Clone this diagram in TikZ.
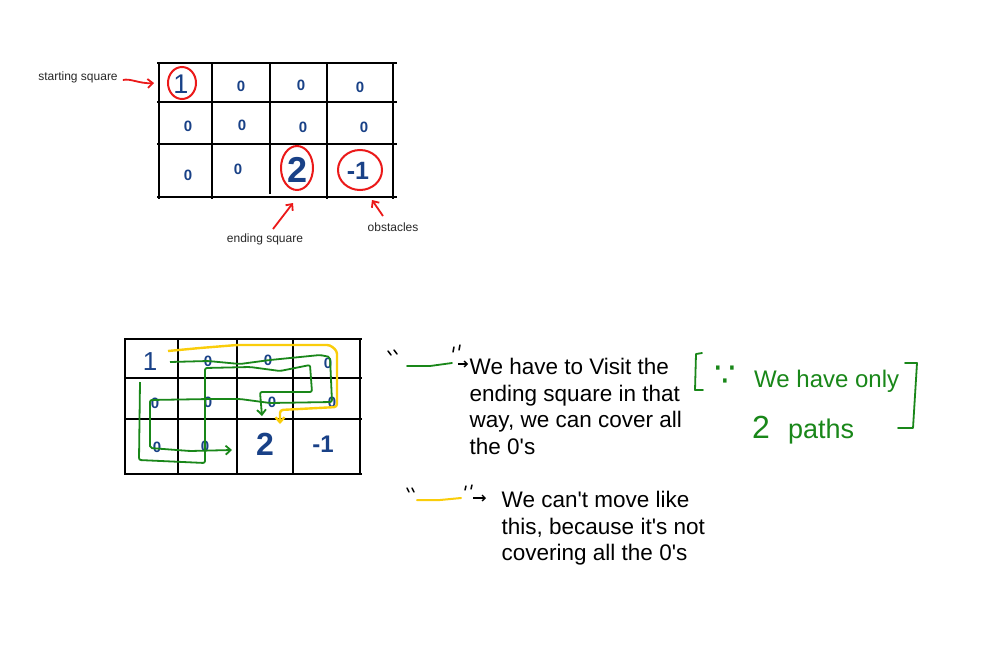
\documentclass[tikz,border=0pt]{standalone}
\usepackage{fontspec}
\setmainfont{Liberation Sans}
\newfontfamily\symfont{DejaVu Sans}
\usetikzlibrary{arrows.meta,shapes.geometric}
\definecolor{penblue}{RGB}{25,65,135}
\definecolor{penred}{RGB}{235,25,25}
\definecolor{pengreen}{RGB}{25,135,25}
\definecolor{penyellow}{RGB}{250,205,10}
\definecolor{labelgray}{RGB}{40,40,40}
\begin{document}
\begin{tikzpicture}[x=1pt,y=-1pt,
  gridline/.style={line width=2pt,black},
  bignum/.style={text=penblue,font=\fontsize{28}{28}\selectfont,inner sep=0pt},
  zero/.style={text=penblue,font=\fontsize{15}{15}\selectfont\bfseries,inner sep=0pt},
  lbl/.style={text=labelgray,font=\fontsize{12}{14}\selectfont,inner sep=0pt},
  ring/.style={draw=penred,line width=2pt,ellipse,inner sep=0pt},
  redarrow/.style={draw=penred,line width=1.8pt,-{Straight Barb[length=5pt,width=9pt]}},
  greenpath/.style={draw=pengreen,line width=1.8pt,rounded corners=2pt},
  yellowpath/.style={draw=penyellow,line width=2.4pt,rounded corners=3pt},
  barb/.style={-{Straight Barb[length=5pt,width=9pt]}},
  bodytext/.style={font=\fontsize{22.5}{26.5}\selectfont,align=left,inner sep=0pt,anchor=north west},
  handtext/.style={text=pengreen,inner sep=0pt},
  tick/.style={draw=black,line width=1.5pt,line cap=round},
  bracket/.style={draw=pengreen,line width=1.8pt,line cap=round,line join=round}]
\useasboundingbox (0,0) rectangle (1000,656);
\fill[white] (0,0) rectangle (1000,656);

% ---------- top grid ----------
\foreach \x in {159,212,327,393} \draw[gridline] (\x,63) -- (\x,199);
\draw[gridline] (270,63) -- (270,194);
\foreach \y in {63,102,144,197} \draw[gridline] (157,\y) -- (397,\y);

\node[bignum,font=\fontsize{27}{27}\selectfont] (t1) at (181,84) {1};
\node[zero] (t01) at (241,86) {0};
\node[zero] (t02) at (301,85) {0};
\node[zero] (t03) at (360,87) {0};
\node[zero] (t10) at (188,126) {0};
\node[zero] (t11) at (242,125) {0};
\node[zero] (t12) at (303,127) {0};
\node[zero] (t13) at (364,127) {0};
\node[zero] (t20) at (188,175) {0};
\node[zero] (t21) at (238,169) {0};
\node[bignum,font=\fontsize{36}{36}\selectfont\bfseries] (t2) at (298,170) {2};
\node[bignum,font=\fontsize{25}{25}\selectfont\bfseries] (tm1) at (358,171) {-1};

\node[ring,minimum width=28pt,minimum height=32pt] (r1) at (182,83) {};
\node[ring,minimum width=32pt,minimum height=44pt] (r2) at (297,168) {};
\node[ring,minimum width=44pt,minimum height=40pt] (r3) at (360,170) {};

\node[lbl] (ls) at (78,77) {starting square};
\node[lbl] (le) at (265,239) {ending square};
\node[lbl] (lo) at (393,227) {obstacles};
\coordinate (as) at (154,83);
\coordinate (ae) at (293,203);
\coordinate (ao) at (372,200);
\draw[redarrow] (ls.east)++(5,3) .. controls (130,78) and (140,84) .. (as);
\draw[redarrow] (273,229) -- (ae);
\draw[redarrow] (383,216) -- (ao);

% ---------- bottom grid ----------
\foreach \x in {125,178,237,293,360} \draw[gridline] (\x,338) -- (\x,475);
\foreach \y in {339,378,419,474} \draw[gridline] (124,\y) -- (362,\y);

\node[bignum,font=\fontsize{26}{26}\selectfont] (b1) at (150,362) {1};
\node[zero] (b01) at (208,361) {0};
\node[zero] (b02) at (268,360) {0};
\node[zero] (b03) at (328,363) {0};
\node[zero] (b10) at (155,403) {0};
\node[zero] (b11) at (208,402) {0};
\node[zero] (b12) at (272,402) {0};
\node[zero] (b13) at (332,402) {0};
\node[zero] (b20) at (157,447) {0};
\node[zero] (b21) at (205,446) {0};
\node[bignum,font=\fontsize{32}{32}\selectfont\bfseries] (b2) at (265,444) {2};
\node[bignum,font=\fontsize{24}{24}\selectfont\bfseries] (bm1) at (323,444) {-1};

% yellow path (invalid)
\draw[yellowpath,barb] (168,351) -- (200,348) -- (237,345) -- (300,345) -- (330,345) -- (337,351) -- (337,407) -- (280,410) -- (280,424);
% green path A
\draw[greenpath,barb] (170,362) -- (208,361) -- (240,364) -- (270,360) -- (320,355) -- (330,357) -- (332,402) -- (270,403) -- (240,399) -- (210,399) -- (150,400) -- (150,448) -- (190,451) -- (232,450);
% green path B
\draw[greenpath,barb] (140,382) -- (139,460) -- (205,463) -- (205,368) -- (250,367) -- (280,371) -- (310,365) -- (312,392) -- (260,392) -- (262,416);

% ---------- legend ----------
\draw[tick] (388,351) -- (391,355);
\draw[tick] (394,350) -- (397,354);
\draw[draw=pengreen,line width=1.8pt,line cap=round] (407,366) -- (430,366) -- (452,363);
\draw[tick] (454,347) -- (453,352);
\draw[tick] (460,345) -- (459,350);
\draw[black,line width=1.3pt,-{Straight Barb[length=3pt,width=6pt]}] (458,364) -- (468,364);
\node[bodytext] (txt1) at (469.5,358) {We have to Visit the\\ending square in that\\way, we can cover all\\the 0\textquotesingle s};

\draw[tick] (407,488) -- (409,492);
\draw[tick] (412,488) -- (414,492);
\draw[draw=penyellow,line width=2pt,line cap=round] (417,500) -- (440,500) -- (461,498);
\draw[tick] (466,486) -- (465,490);
\draw[tick] (472,485) -- (471,489);
\draw[black,line width=1.3pt,-{Straight Barb[length=3pt,width=6pt]}] (473,498) -- (486,498);
\node[bodytext] (txt2) at (501.5,491) {We can\textquotesingle t move like\\this, because it\textquotesingle s not\\covering all the 0\textquotesingle s};

% ---------- green note ----------
\draw[bracket] (702,353) -- (696,354) -- (695,390) -- (703,390);
\draw[bracket] (905,363) -- (917,363) -- (913,428) -- (898,428);
\node[handtext,font=\symfont\fontsize{34}{34}\selectfont] (because) at (725,376) {∵};
\node[handtext,font=\fontsize{24}{24}\selectfont,anchor=base west] (note1) at (754,387) {We have only};
\node[handtext,font=\fontsize{27}{27}\selectfont,anchor=base west] (note2) at (752,438) {{\fontsize{32}{32}\selectfont 2}\hspace{18pt}paths};
\end{tikzpicture}
\end{document}
